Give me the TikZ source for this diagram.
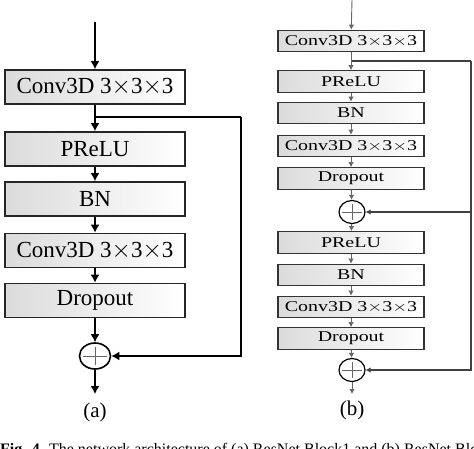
\documentclass[tikz,border=0pt]{standalone}
\usepackage{fontspec}
\usepackage{graphicx}
\setmainfont{Liberation Serif}
\usetikzlibrary{arrows.meta,shapes.geometric}

\newcommand{\widetext}[1]{\scalebox{1.33}[1]{#1}}

\tikzset{
    blocka/.style={draw=black!85, line width=1.8pt, left color=black!14, right color=white,
        minimum width=180pt, minimum height=34pt, inner sep=0pt, font=\fontsize{23}{23}\selectfont},
    blockb/.style={draw=black!80, line width=1.2pt, left color=black!14, right color=white,
        minimum width=146pt, minimum height=21.5pt, inner sep=0pt, font=\fontsize{15}{15}\selectfont},
    adda/.style={draw, ellipse, line width=1.6pt, minimum width=31pt, minimum height=26pt, inner sep=0pt},
    addb/.style={draw, ellipse, line width=1.2pt, minimum width=26pt, minimum height=23pt, inner sep=0pt},
    flowa/.style={-{Latex[length=8pt,width=9pt]}, line width=1.3pt},
    flowb/.style={-{Latex[length=5pt,width=5.5pt]}, line width=0.9pt, draw=black!60},
    skipa/.style={line width=1.8pt},
    skipb/.style={line width=1.3pt, draw=black!75},
    plusline/.style={line width=0.7pt, draw=black!60},
}

\begin{document}
\begin{tikzpicture}[x=1pt,y=-1pt]
    \useasboundingbox (0,0) rectangle (474,448);

    % (a)
    \node[blocka] (conva) at (95,87) {Conv3D 3$\times$3$\times$3};
    \node[blocka] (prelua) at (95,149) {PReLU};
    \node[blocka] (bna) at (95,199) {BN};
    \node[blocka] (convb) at (95,250.5) {Conv3D 3$\times$3$\times$3};
    \node[blocka] (dropa) at (95,300.5) {Dropout};
    \node[adda] (suma) at (95,356) {};
    \node[font=\fontsize{21}{21}\selectfont] (laba) at (95,412) {(a)};

    \coordinate (ina) at (95,22);
    \coordinate (outa) at (95,394);
    \coordinate (ska) at (95,117);
    \coordinate (skacorner) at (241,117);

    \draw[plusline] ([xshift=-12pt]suma.center) -- ([xshift=12pt]suma.center);
    \draw[plusline] ([yshift=-9pt]suma.center) -- ([yshift=9pt]suma.center);

    \draw[flowa] (ina) -- (conva);
    \draw[flowa] (conva) -- (prelua);
    \draw[flowa] (prelua) -- (bna);
    \draw[flowa] (bna) -- (convb);
    \draw[flowa] (convb) -- (dropa);
    \draw[flowa] (dropa) -- (suma);
    \draw[flowa] (suma) -- (outa);
    \draw[skipa] (ska) -- (skacorner);
    \draw[skipa,-{Latex[length=8pt,width=9pt]}] (skacorner) |- (suma);

    % (b)
    \node[blockb] (convc) at (351,41) {\widetext{Conv3D 3$\times$3$\times$3}};
    \node[blockb] (prelub) at (351,81.5) {\widetext{PReLU}};
    \node[blockb] (bnb) at (351,113) {\widetext{BN}};
    \node[blockb] (convd) at (351,146) {\widetext{Conv3D 3$\times$3$\times$3}};
    \node[blockb] (dropb) at (351,178.5) {\widetext{Dropout}};
    \node[addb] (sumb) at (352,212) {};
    \node[blockb] (preluc) at (351,242.5) {\widetext{PReLU}};
    \node[blockb] (bnc) at (351,275) {\widetext{BN}};
    \node[blockb] (conve) at (351,307) {\widetext{Conv3D 3$\times$3$\times$3}};
    \node[blockb] (dropc) at (351,338.5) {\widetext{Dropout}};
    \node[addb] (sumc) at (352,370) {};
    \node[font=\fontsize{21}{21}\selectfont] (labb) at (352,410) {(b)};

    \coordinate (inb) at (352,0);
    \coordinate (outb) at (352,394);
    \coordinate (skb) at (352,61);
    \coordinate (skbcorner) at (471,61);

    \draw[plusline] ([xshift=-10pt]sumb.center) -- ([xshift=10pt]sumb.center);
    \draw[plusline] ([yshift=-8pt]sumb.center) -- ([yshift=8pt]sumb.center);
    \draw[plusline] ([xshift=-10pt]sumc.center) -- ([xshift=10pt]sumc.center);
    \draw[plusline] ([yshift=-8pt]sumc.center) -- ([yshift=8pt]sumc.center);

    \draw[flowb] (inb) -- (convc);
    \draw[flowb] (convc) -- (prelub);
    \draw[flowb] (prelub) -- (bnb);
    \draw[flowb] (bnb) -- (convd);
    \draw[flowb] (convd) -- (dropb);
    \draw[flowb] (dropb) -- (sumb);
    \draw[flowb] (sumb) -- (preluc);
    \draw[flowb] (preluc) -- (bnc);
    \draw[flowb] (bnc) -- (conve);
    \draw[flowb] (conve) -- (dropc);
    \draw[flowb] (dropc) -- (sumc);
    \draw[flowb] (sumc) -- (outb);
    \draw[skipb] (skb) -- (skbcorner);
    \draw[skipb,-{Latex[length=5pt,width=5.5pt]}] (skbcorner) |- (sumb);
    \draw[skipb,-{Latex[length=5pt,width=5.5pt]}] (skbcorner) |- (sumc);

    % caption, cut by the page edge
    \node[anchor=base west, inner sep=0pt, font=\fontsize{16}{16}\selectfont] (cap) at (0,454)
        {\textbf{Fig. 4.} The network architecture of (a) ResNet Block1 and (b) ResNet Block2};
\end{tikzpicture}
\end{document}
